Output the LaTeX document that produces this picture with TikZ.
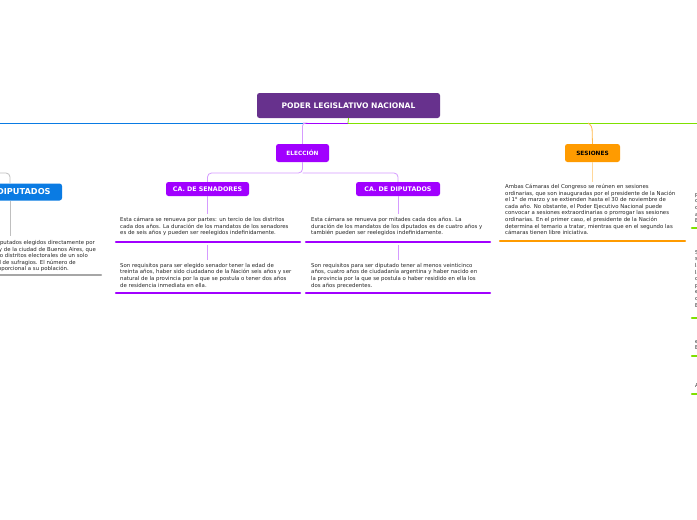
\documentclass[tikz,border=0pt]{standalone}
\usepackage{fontspec}
\setmainfont{DejaVu Sans}
\begin{document}
\begin{tikzpicture}[x=1pt,y=-1pt,
  box/.style={rounded corners=2.5pt,text=white,font=\bfseries\fontsize{6}{7}\selectfont,inner sep=0pt,minimum height=15pt},
  body/.style={anchor=north west,align=left,inner sep=0pt,text=black!85,font=\fontsize{5.4}{6.6}\selectfont},
  lline/.style={anchor=base east,inner sep=0pt,text=black!85,font=\fontsize{5.4}{6.6}\selectfont},
  bar/.style={line width=2.2pt,line cap=round}]
\clip (0,0) rectangle (697,520);
\fill[white] (0,0) rectangle (697,520);
\definecolor{root}{HTML}{67318D}
\definecolor{vio}{HTML}{A100FF}
\definecolor{lvio}{HTML}{D59BFF}
\definecolor{blu}{HTML}{0A7BE3}
\definecolor{ora}{HTML}{FF9B00}
\definecolor{grn}{HTML}{7FE000}
% connectors
\coordinate (L) at (-5,123);
\coordinate (R) at (705,123);
\node[box,fill=root,minimum width=183pt,minimum height=25pt,font=\bfseries\fontsize{7.6}{8}\selectfont] (root) at (348.5,105.5) {PODER LEGISLATIVO NACIONAL};
\draw[blu,line width=0.8pt] (L) -- (303,123);
\draw[vio,line width=0.8pt] (303,123) -- (348,123);
\draw[grn,line width=0.8pt] (348,123) -- (R);
\draw[grn,line width=0.8pt] (root.south) -- (348,123);
\node[box,fill=vio,minimum width=53pt,minimum height=18pt,font=\bfseries\fontsize{5.8}{7}\selectfont] (elec) at (302.5,153) {ELECCIÓN};
\node[box,fill=ora,minimum width=55pt,minimum height=18pt,text=black,font=\bfseries\fontsize{5.8}{7}\selectfont] (ses) at (592.5,153) {SESIONES};
\draw[lvio,line width=0.8pt,rounded corners=3pt] (elec.north) |- (303,123);
\draw[ora!70,line width=0.8pt,rounded corners=3pt] (ses.north) -- (592,126) -- (588,123);
\node[box,fill=vio,minimum width=83pt,minimum height=14pt,font=\bfseries\fontsize{6.3}{7}\selectfont] (sen) at (207.5,189) {CA. DE SENADORES};
\node[box,fill=vio,minimum width=84pt,minimum height=14pt,font=\bfseries\fontsize{6.3}{7}\selectfont] (dip) at (398,189) {CA. DE DIPUTADOS};
\draw[lvio,line width=0.8pt,rounded corners=4pt] (elec.south) -- (302.5,173) -| (sen.north);
\draw[lvio,line width=0.8pt,rounded corners=4pt] (302.5,173) -| (dip.north);
\node[box,fill=blu,minimum width=110pt,minimum height=17pt,font=\bfseries\fontsize{8.2}{9}\selectfont] (cdip) at (7,192) {CA. DE DIPUTADOS};
\draw[black!25,line width=0.8pt,rounded corners=4pt] (10,183) -- (10,173) -- (-10,173);
% senadores
\node[body] (s1) at (120,217) {Esta cámara se renueva por partes: un tercio de los distritos\\cada dos años. La duración de los mandatos de los senadores\\es de seis años y pueden ser reelegidos indefinidamente.};
\draw[vio,bar] (116,242) -- (300,242);
\node[body] (s2) at (120,263) {Son requisitos para ser elegido senador tener la edad de\\treinta años, haber sido ciudadano de la Nación seis años y ser\\natural de la provincia por la que se postula o tener dos años\\de residencia inmediata en ella.};
\draw[vio,bar] (116,293) -- (300,293);
\draw[lvio,line width=0.8pt] (sen.south) -- (207.5,214);
\draw[lvio,line width=0.8pt] (207.5,245) -- (207.5,260);
% diputados
\node[body] (d1) at (311,217) {Esta cámara se renueva por mitades cada dos años. La\\duración de los mandatos de los diputados es de cuatro años y\\también pueden ser reelegidos indefinidamente.};
\draw[vio,bar] (306,242) -- (490,242);
\node[body] (d2) at (311,263) {Son requisitos para ser diputado tener al menos veinticinco\\años, cuatro años de ciudadanía argentina y haber nacido en\\la provincia por la que se postula o haber residido en ella los\\dos años precedentes.};
\draw[vio,bar] (306,293) -- (490,293);
\draw[lvio,line width=0.8pt] (dip.south) -- (398,214);
\draw[lvio,line width=0.8pt] (398,245) -- (398,260);
% sesiones
\node[body] (se1) at (505,184) {Ambas Cámaras del Congreso se reúnen en sesiones\\ordinarias, que son inauguradas por el presidente de la Nación\\el 1\textsuperscript{o} de marzo y se extienden hasta el 30 de noviembre de\\cada año. No obstante, el Poder Ejecutivo Nacional puede\\convocar a sesiones extraordinarias o prorrogar las sesiones\\ordinarias. En el primer caso, el presidente de la Nación\\determina el temario a tratar, mientras que en el segundo las\\cámaras tienen libre iniciativa.};
\draw[ora,bar] (500,241) -- (685,241);
\draw[ora!40,line width=0.8pt] (ses.south) -- (592.5,182);
% left
\node[lline] (l1) at (95,244) {La Cámara se compone de diputados elegidos directamente por};
\node[lline] (l2) at (96,251) {por el pueblo de las provincias y de la ciudad de Buenos Aires, que};
\node[lline] (l3) at (88,257.5) {que se consideran a este fin como distritos electorales de un solo};
\node[lline] (l4) at (76,264) {Estado y a simple pluralidad de sufragios. El número de};
\node[lline] (l5) at (69,270.5) {representantes será proporcional a su población.};
\draw[black!35,bar] (-10,275) -- (101,275);
\draw[black!25,line width=0.8pt] (10,201) -- (10,236);
% right fragments
\node[body] (r1) at (695,193) {para\\con\\cada\\a\\El};
\draw[grn,bar] (692,228) -- (705,228);
\node[body] (r2) at (695,250) {Se\\ser\\la\\la\\de\\para\\en\\cu\\E};
\draw[grn,bar] (692,318) -- (705,318);
\node[body] (r3) at (695,339) {el\\Es};
\draw[grn,bar] (692,356) -- (705,356);
\node[body] (r4) at (695,383) {A};
\draw[grn,bar] (692,394) -- (705,394);
\end{tikzpicture}
\end{document}
